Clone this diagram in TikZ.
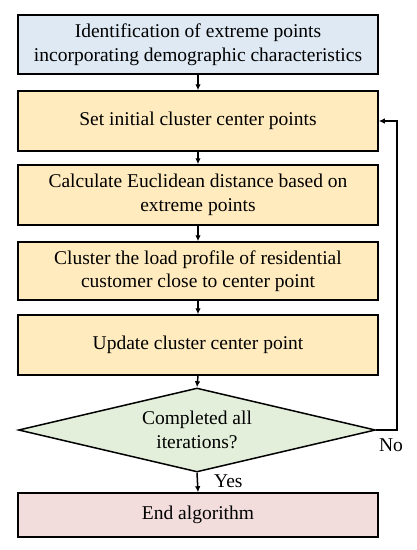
\documentclass[tikz,border=0pt]{standalone}
\usepackage{fontspec}
\setmainfont{Liberation Serif}
\usetikzlibrary{shapes.geometric,arrows.meta}
\definecolor{cblue}{RGB}{222,233,244}
\definecolor{cyel}{RGB}{255,235,190}
\definecolor{cgreen}{RGB}{227,239,218}
\definecolor{cpink}{RGB}{242,220,220}
\begin{document}
\begin{tikzpicture}[x=1pt,y=-1pt,
  box/.style={draw=black,line width=1.5pt,minimum width=360pt,inner sep=0pt,align=center,font=\fontsize{19.5}{23.5}\selectfont},
  arr/.style={line width=1.5pt,-{Latex[length=6pt,width=5.5pt]}},
  lbl/.style={font=\fontsize{19.5}{23.5}\selectfont,inner sep=0pt}]
\useasboundingbox (0,0) rectangle (416,550);
\node[box,fill=cblue,minimum height=59pt] (b1) at (198,44.5) {Identification of extreme points\\incorporating demographic characteristics};
\node[box,fill=cyel,minimum height=60pt] (b2) at (198,121) {Set initial cluster center points};
\node[box,fill=cyel,minimum height=60pt] (b3) at (198,195) {Calculate Euclidean distance based on\\extreme points};
\node[box,fill=cyel,minimum height=58pt] (b4) at (198,271) {Cluster the load profile of residential\\customer close to center point};
\node[box,fill=cyel,minimum height=60pt] (b5) at (198,345) {Update cluster center point};
\node[diamond,aspect=4.25,draw=black,line width=1.5pt,fill=cgreen,minimum width=357pt,minimum height=84pt,inner sep=0pt,align=center,font=\fontsize{19.5}{23.5}\selectfont] (d) at (197,430) {Completed all\\iterations?};
\node[box,fill=cpink,minimum height=44pt] (b6) at (198,515) {End algorithm};
\draw[arr] (b1.south) -- (b2.north);
\draw[arr] (b2.south) -- (b3.north);
\draw[arr] (b3.south) -- (b4.north);
\draw[arr] (b4.south) -- (b5.north);
\draw[arr] (b5.south) -- (d.north);
\draw[arr] (d.south) -- (b6.north);
\coordinate (c1) at (397,430);
\coordinate (c2) at (397,121);
\draw[arr] (d.east) -- (c1) -- (c2) -- (b2.east);
\node[lbl,anchor=west] (yes) at (214,481) {Yes};
\node[lbl] (no) at (391,445) {No};
\end{tikzpicture}
\end{document}
